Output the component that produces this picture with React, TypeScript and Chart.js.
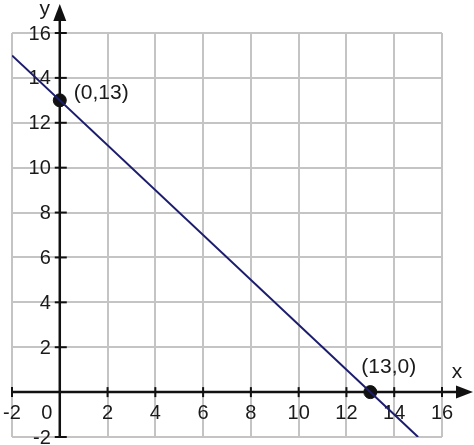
import React, { useEffect, useRef } from "react";
import { Chart, registerables } from "chart.js";

Chart.register(...registerables);

const lineX = [-2, 15];
const lineY = [15, -2];
const pointX = [0, 13];
const pointY = [13, 0];
const pointLabels = ["(0,13)", "(13,0)"];
const xTickLabels = [-2, 2, 4, 6, 8, 10, 12, 14, 16];
const yTickLabels = [-2, 2, 4, 6, 8, 10, 12, 14, 16];

const FONT = '"Liberation Sans", Arial, sans-serif';

const axesPlugin = {
  id: "axesPlugin",
  beforeDatasetsDraw(chart: any) {
    const { ctx, scales } = chart;
    const xs = scales.x;
    const ys = scales.y;
    const x0 = xs.getPixelForValue(0);
    const y0 = ys.getPixelForValue(0);
    ctx.save();
    ctx.strokeStyle = "#111";
    ctx.fillStyle = "#111";
    ctx.lineWidth = 2.5;
    // x axis
    const xEnd = 473;
    ctx.beginPath();
    ctx.moveTo(xs.getPixelForValue(-2), y0);
    ctx.lineTo(xEnd - 10, y0);
    ctx.stroke();
    ctx.beginPath();
    ctx.moveTo(xEnd, y0);
    ctx.lineTo(xEnd - 17, y0 - 6.5);
    ctx.lineTo(xEnd - 17, y0 + 6.5);
    ctx.closePath();
    ctx.fill();
    // y axis
    const yTop = 4;
    ctx.beginPath();
    ctx.moveTo(x0, ys.getPixelForValue(-2));
    ctx.lineTo(x0, yTop + 10);
    ctx.stroke();
    ctx.beginPath();
    ctx.moveTo(x0, yTop);
    ctx.lineTo(x0 - 6.5, yTop + 17);
    ctx.lineTo(x0 + 6.5, yTop + 17);
    ctx.closePath();
    ctx.fill();
    // tick marks
    ctx.lineWidth = 2;
    xTickLabels.forEach((v) => {
      const px = xs.getPixelForValue(v);
      ctx.beginPath();
      ctx.moveTo(px, y0 - 5);
      ctx.lineTo(px, y0 + 5);
      ctx.stroke();
    });
    yTickLabels.forEach((v) => {
      const py = ys.getPixelForValue(v);
      ctx.beginPath();
      ctx.moveTo(x0 - 5, py);
      ctx.lineTo(x0 + 7, py);
      ctx.stroke();
    });
    // tick labels
    ctx.font = `20px ${FONT}`;
    ctx.fillStyle = "#1a1a1a";
    ctx.textBaseline = "middle";
    ctx.textAlign = "right";
    yTickLabels.forEach((v) => {
      ctx.fillText(String(v), x0 - 9, ys.getPixelForValue(v) + 1);
    });
    ctx.textAlign = "center";
    xTickLabels.forEach((v) => {
      ctx.fillText(String(v), xs.getPixelForValue(v), y0 + 21);
    });
    ctx.fillText("0", x0 - 13, y0 + 21);
    // axis letters
    ctx.font = `21px ${FONT}`;
    ctx.fillText("y", x0 - 15, 9);
    ctx.fillText("x", 457, y0 - 20);
    ctx.restore();
  },
  afterDraw(chart: any) {
    const { ctx, scales } = chart;
    const xs = scales.x;
    const ys = scales.y;
    ctx.save();
    ctx.font = `21px ${FONT}`;
    ctx.fillStyle = "#1a1a1a";
    ctx.textBaseline = "middle";
    ctx.textAlign = "left";
    const offsets = [
      [14, -7],
      [-9, -25],
    ];
    pointLabels.forEach((t, i) => {
      const px = xs.getPixelForValue(pointX[i]);
      const py = ys.getPixelForValue(pointY[i]);
      ctx.fillText(t, px + offsets[i][0], py + offsets[i][1]);
    });
    ctx.restore();
  },
};

export default function App() {
  const ref = useRef<HTMLCanvasElement | null>(null);
  useEffect(() => {
    if (!ref.current) return;
    const chart = new Chart(ref.current, {
      type: "scatter",
      data: {
        datasets: [
          {
            data: lineX.map((x, i) => ({ x, y: lineY[i] })),
            showLine: true,
            borderColor: "#1c1c6e",
            borderWidth: 2,
            pointRadius: 0,
          },
          {
            data: pointX.map((x, i) => ({ x, y: pointY[i] })),
            pointRadius: 6.5,
            backgroundColor: "#111",
            borderColor: "#111",
          },
        ],
      },
      options: {
        responsive: false,
        animation: false,
        layout: { padding: { left: 12, right: 32, top: 33, bottom: 8 } },
        plugins: { legend: { display: false }, tooltip: { enabled: false } },
        scales: {
          x: {
            type: "linear",
            min: -2,
            max: 16,
            ticks: { display: false, stepSize: 2 },
            grid: { color: "#c4c4c4", lineWidth: 2, drawTicks: false, tickLength: 0 },
            border: { display: false },
          },
          y: {
            type: "linear",
            min: -2,
            max: 16,
            ticks: { display: false, stepSize: 2 },
            grid: { color: "#c4c4c4", lineWidth: 2, drawTicks: false, tickLength: 0 },
            border: { display: false },
          },
        },
      },
      plugins: [axesPlugin],
    });
    return () => chart.destroy();
  }, []);
  return (
    <div style={{ position: "absolute", left: 0, top: 0, width: 474, height: 445, background: "#fff" }}>
      <canvas ref={ref} width={474} height={445} />
    </div>
  );
}
